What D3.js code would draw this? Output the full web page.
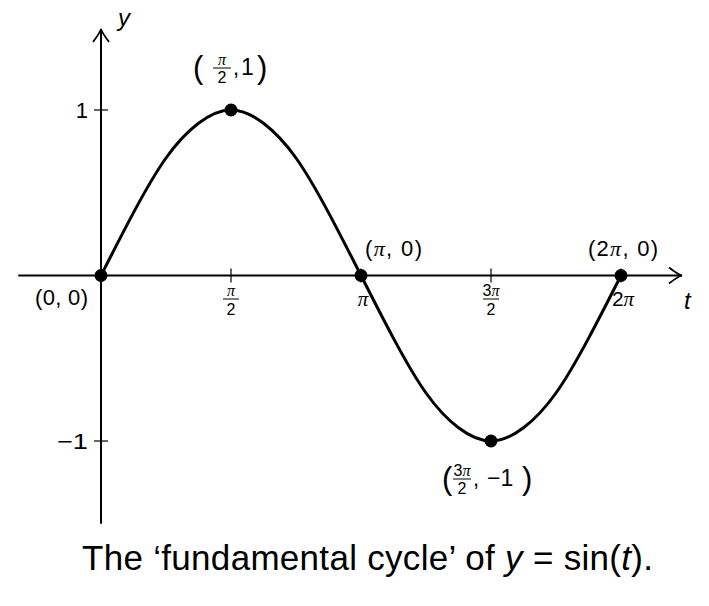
<!DOCTYPE html>
<html><head><meta charset="utf-8">
<script src="https://cdn.jsdelivr.net/npm/d3@7"></script>
<style>
body{margin:0;background:#fff;}
svg{display:block;}
text{font-family:"Liberation Sans",Arial,Helvetica,sans-serif;fill:#000;}
.pi{font-family:"Liberation Serif","DejaVu Serif",serif;font-style:italic;}
</style></head>
<body>
<svg id="chart" width="709" height="606"></svg>
<script>
// Curve samples (t in units of pi/8, y value)
const curveT = [0,1,2,3,4,5,6,7,8,9,10,11,12,13,14,15,16];
const curveY = [0,0.38,0.71,0.92,1,0.92,0.71,0.38,0,-0.38,-0.71,-0.92,-1,-0.92,-0.71,-0.38,0];
// Highlighted points (t in units of pi/2)
const pointT = [0,1,2,3,4];
const pointY = [0,1,0,-1,0];
// Tick positions (units of pi/2) and labels
const xTicks = [1,2,3,4];
const xTickNum = ["π","π","3π","2π"];
const xTickDen = ["2","","2",""];
const yTicks = [1,-1];
const yTickLabels = ["1","−1"];
const caption = ["The ‘fundamental cycle’ of ","y"," = sin(","t",")."];

const svg = d3.select("#chart");
const PI = Math.PI;
const x = d3.scaleLinear().domain([0, 2*PI]).range([101, 621]);
const y = d3.scaleLinear().domain([-1, 1]).range([441, 110]);

function fill(t, str){
  str.split(/(π)/).forEach(s=>{
    if (!s) return;
    const sp = t.append("tspan").text(s);
    if (s==="π") sp.attr("class","pi");
  });
  return t;
}

// axes
const xMin = -1.0, xMax = 7.02, yMin = -1.5, yMax = 1.49;
svg.append("line").attr("x1", x(xMin)).attr("x2", x(xMax)).attr("y1", y(0)).attr("y2", y(0))
  .attr("stroke","#000").attr("stroke-width",2);
svg.append("line").attr("x1", x(0)).attr("x2", x(0)).attr("y1", y(yMin)).attr("y2", y(yMax))
  .attr("stroke","#000").attr("stroke-width",2);
const ax = x(xMax), ay = y(0);
svg.append("path").attr("d", `M${ax-13},${ay-8} Q${ax-4},${ay-1} ${ax},${ay} Q${ax-4},${ay+1} ${ax-13},${ay+8}`)
  .attr("fill","none").attr("stroke","#000").attr("stroke-width",1.8);
const bx = x(0), by = y(yMax);
svg.append("path").attr("d", `M${bx-8},${by+13} Q${bx-1},${by+4} ${bx},${by} Q${bx+1},${by+4} ${bx+8},${by+13}`)
  .attr("fill","none").attr("stroke","#000").attr("stroke-width",1.8);

// x ticks
xTicks.forEach((v,i)=>{
  const px = x(v*PI/2);
  svg.append("line").attr("x1",px).attr("x2",px).attr("y1",y(0)-7).attr("y2",y(0)+7)
    .attr("stroke","#000").attr("stroke-width",1.2);
  if (xTickDen[i]) {
    fill(svg.append("text").attr("x",px).attr("y",y(0)+20).attr("text-anchor","middle")
      .attr("font-size",16), xTickNum[i]);
    svg.append("line").attr("x1",px-8).attr("x2",px+8).attr("y1",y(0)+23.5).attr("y2",y(0)+23.5)
      .attr("stroke","#000").attr("stroke-width",1);
    svg.append("text").attr("x",px).attr("y",y(0)+39).attr("text-anchor","middle")
      .attr("font-size",16).text(xTickDen[i]);
  } else {
    fill(svg.append("text").attr("x",px+2).attr("y",y(0)+30).attr("text-anchor","middle")
      .attr("font-size",21), xTickNum[i]);
  }
});
// y ticks
yTicks.forEach((v,i)=>{
  const py = y(v);
  svg.append("line").attr("x1",x(0)-7).attr("x2",x(0)+7).attr("y1",py).attr("y2",py)
    .attr("stroke","#000").attr("stroke-width",1.2);
  const t = svg.append("text").attr("x",x(0)-13).attr("y",py+8).attr("text-anchor","end")
    .attr("font-size",22).text(yTickLabels[i]);
  if (v < 0) t.attr("x", x(0)-44).attr("text-anchor","start").attr("textLength",31).attr("lengthAdjust","spacingAndGlyphs");
});
// axis labels
svg.append("text").attr("x",x(0)+17).attr("y",y(yMax)-3).attr("font-size",24)
  .attr("font-style","italic").text("y");
svg.append("text").attr("x",x(xMax)+2).attr("y",y(0)+33).attr("font-size",24)
  .attr("font-style","italic").text("t");

// curve
const data = curveT.map((t,i)=>({t: t*PI/8, v: curveY[i]}));
svg.append("path").datum(data)
  .attr("d", d3.line().x(d=>x(d.t)).y(d=>y(d.v)).curve(d3.curveNatural))
  .attr("fill","none").attr("stroke","#000").attr("stroke-width",3);

// points
svg.selectAll("circle.pt").data(pointT.map((t,i)=>({t:t*PI/2, v:pointY[i]})))
  .enter().append("circle").attr("cx",d=>x(d.t)).attr("cy",d=>y(d.v)).attr("r",6.5).attr("fill","#000");

// point labels
function plain(px, py, w, str){
  fill(svg.append("text").attr("x",px).attr("y",py).attr("font-size",22)
    .attr("textLength",w).attr("lengthAdjust","spacing"), str);
}
plain(35, 305, 53, "(0, 0)");
plain(365, 256, 57, "(π, 0)");
plain(588, 256, 70, "(2π, 0)");
function fracLabel(lx, cx, cy, num, valX, val, rx){
  const g = svg.append("g");
  g.append("text").attr("x",lx).attr("y",cy+10).attr("font-size",31).text("(");
  fill(g.append("text").attr("x",cx).attr("y",cy-3).attr("text-anchor","middle").attr("font-size",16), num);
  g.append("line").attr("x1",cx-9).attr("x2",cx+9).attr("y1",cy).attr("y2",cy).attr("stroke","#000").attr("stroke-width",1);
  g.append("text").attr("x",cx).attr("y",cy+15).attr("text-anchor","middle").attr("font-size",16).text("2");
  g.append("text").attr("x",cx+11).attr("y",cy+7).attr("font-size",22).text(",");
  g.append("text").attr("x",valX).attr("y",cy+7).attr("font-size",23).text(val);
  g.append("text").attr("x",rx).attr("y",cy+10).attr("font-size",31).text(")");
}
fracLabel(193, 222, 68, "π", 241, "1", 257);
fracLabel(442, 462, 479, "3π", 487, "−1", 522);

// caption
const cap = svg.append("text").attr("x",82).attr("y",570).attr("font-size",35)
  .attr("textLength",571).attr("lengthAdjust","spacing");
caption.forEach((s,i)=>{
  cap.append("tspan").attr("font-style", (i===1||i===3)?"italic":"normal").text(s);
});
</script>
</body></html>
